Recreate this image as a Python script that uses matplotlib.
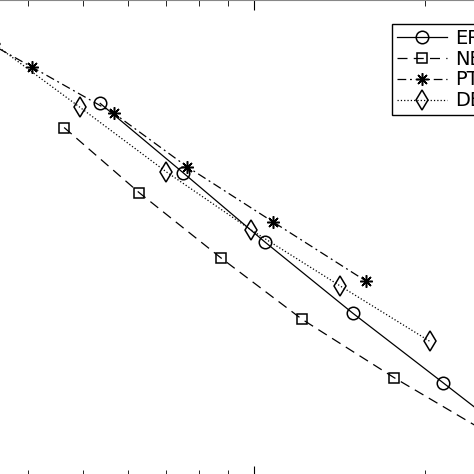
import numpy as np
import matplotlib

matplotlib.use("Agg")
import matplotlib.pyplot as plt

# x in data units (log axis), y in arbitrary units (top = 474)
er_x = [5.36, 7.5, 10.45, 14.93, 21.5, 30.9]
er_y = [371, 302, 233, 162, 93, 24]
new_x = [4.63, 6.28, 8.75, 12.15, 17.63, 25.6]
new_y = [347, 282, 217, 156, 98, 44]
pt_x = [2.91, 4.07, 5.67, 7.62, 10.8, 15.75]
pt_y = [453, 407, 361, 308, 253, 194]
de_x = [3.49, 4.94, 7.0, 9.88, 14.2, 20.4]
de_y = [430, 367, 303, 245, 189, 134]
labels = ["ER6x", "NEW6", "PT6x", "DEF6"]

fig = plt.figure(figsize=(4.74, 4.74), dpi=100)
ax = fig.add_axes([-0.2, -0.004, 1.4, 1.004])
ax.set_xscale("log")

kw = dict(color="black", linewidth=0.9, markerfacecolor="none", markeredgecolor="black", markeredgewidth=1.1)
ax.plot(er_x, er_y, "-", marker="o", markersize=9, label=labels[0], **kw)
ax.plot(new_x, new_y, linestyle=(0, (8, 5)), marker="s", markersize=7, label=labels[1], **kw)
ax.plot(pt_x, pt_y, linestyle=(0, (7, 3, 1.5, 3)), marker=(8, 2, 0), markersize=9, label=labels[2], **kw)
ax.plot(de_x, de_y, ":", marker="d", markersize=10, label=labels[3], **kw)

# image x=0 -> 3.57, x=474 -> 24.4; axes runs 20% past each side
xl0, xl1 = np.log10(3.57), np.log10(24.4)
span = xl1 - xl0
ax.set_xlim(10 ** (xl0 - 0.2 * span), 10 ** (xl1 + 0.2 * span))
ax.set_ylim(0, 474)
ax.tick_params(which="both", direction="in", top=True, right=True, labelbottom=False, labelleft=False)
ax.tick_params(which="major", length=7)
ax.tick_params(which="minor", length=4)
for s in ax.spines.values():
    s.set_color("#888888")

leg = ax.legend(loc="upper left", bbox_to_anchor=(382 / 474, 1 - 14 / 474), bbox_transform=fig.transFigure,
                fancybox=False, edgecolor="black", framealpha=1, fontsize=14, handlelength=2.6,
                borderpad=0.25, labelspacing=0.1, handletextpad=0.4)
leg.get_frame().set_linewidth(1.0)

fig.savefig("out.png", dpi=100)
